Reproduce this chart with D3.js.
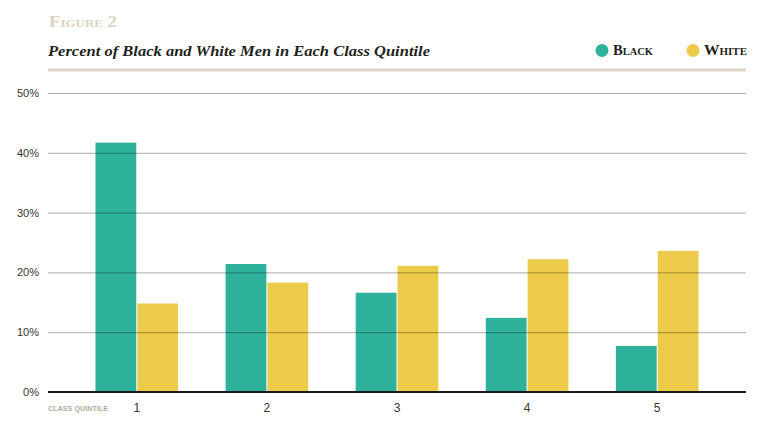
<!DOCTYPE html>
<html>
<head>
<meta charset="utf-8">
<script src="https://cdn.jsdelivr.net/npm/d3@7"></script>
<style>
  body { margin: 0; background: #fff; }
</style>
</head>
<body>
<script>
// chart data
const quintiles = ["1", "2", "3", "4", "5"];
const series = ["Black", "White"];
const blackValues = [41.7, 21.4, 16.6, 12.4, 7.7];
const whiteValues = [14.8, 18.3, 21.1, 22.2, 23.6];
const yTicks = [0, 10, 20, 30, 40, 50];

const colors = { Black: "#2fb29c", White: "#ecca4a" };

const width = 768, height = 431;
const margin = { top: 93, right: 22, bottom: 39, left: 48 };

const svg = d3.select("body").append("svg")
  .attr("width", width)
  .attr("height", height);

// header
svg.append("text")
  .attr("x", 49).attr("y", 26.7)
  .attr("font-family", "Liberation Serif, serif")
  .attr("font-weight", "bold")
  .attr("font-size", 16)
  .attr("font-variant", "small-caps")
  .attr("fill", "#ddd3c3")
  .attr("textLength", 68)
  .attr("lengthAdjust", "spacingAndGlyphs")
  .text("Figure 2");

svg.append("text")
  .attr("x", 48).attr("y", 56)
  .attr("font-family", "Liberation Serif, serif")
  .attr("font-weight", "bold")
  .attr("font-style", "italic")
  .attr("font-size", 15.5)
  .attr("fill", "#231f20")
  .attr("textLength", 382)
  .attr("lengthAdjust", "spacingAndGlyphs")
  .text("Percent of Black and White Men in Each Class Quintile");

svg.append("rect")
  .attr("x", 48).attr("y", 68.5)
  .attr("width", width - margin.right - 48)
  .attr("height", 3)
  .attr("fill", "#ddd4c5");

// legend
const legend = svg.append("g");
const legendX = { Black: 602, White: 693 };
const legendW = { Black: 40, White: 43 };
series.forEach(s => {
  legend.append("circle")
    .attr("cx", legendX[s]).attr("cy", 50.5)
    .attr("r", 6.5)
    .attr("fill", colors[s]);
  legend.append("text")
    .attr("x", legendX[s] + 11).attr("y", 55)
    .attr("font-family", "Liberation Serif, serif")
    .attr("font-weight", "bold")
    .attr("font-size", 14)
    .attr("font-variant", "small-caps")
    .attr("fill", "#231f20")
    .attr("textLength", legendW[s])
    .attr("lengthAdjust", "spacingAndGlyphs")
    .text(s);
});

// scales
const x0 = d3.scaleBand()
  .domain(quintiles)
  .range([margin.left, width - margin.right])
  .padding(0.365);

const x1 = d3.scaleBand()
  .domain(series)
  .range([0, x0.bandwidth()])
  .paddingInner(0.025);

const y = d3.scaleLinear()
  .domain([0, 50])
  .range([height - margin.bottom, margin.top]);

const rows = quintiles.map((q, i) => ({
  q, values: [
    { key: "Black", value: blackValues[i] },
    { key: "White", value: whiteValues[i] }
  ]
}));

// bars
svg.append("g")
  .selectAll("g")
  .data(rows)
  .join("g")
  .attr("transform", d => `translate(${x0(d.q)},0)`)
  .selectAll("rect")
  .data(d => d.values)
  .join("rect")
  .attr("x", d => x1(d.key))
  .attr("y", d => y(d.value))
  .attr("width", x1.bandwidth())
  .attr("height", d => y(0) - y(d.value))
  .attr("fill", d => colors[d.key]);

// gridlines over bars
const yAxis = svg.append("g")
  .attr("transform", `translate(${margin.left},0)`)
  .call(d3.axisLeft(y)
    .tickValues(yTicks.filter(t => t > 0))
    .tickSize(-(width - margin.right - margin.left))
    .tickFormat(d => d + "%"));
yAxis.select(".domain").remove();
yAxis.selectAll(".tick line")
  .attr("stroke", "#000")
  .attr("stroke-opacity", 0.33);
yAxis.selectAll(".tick text")
  .attr("x", -9)
  .attr("font-family", "Liberation Sans, Arial, sans-serif")
  .attr("font-size", 11)
  .attr("fill", "#333");

// zero label and baseline
svg.append("text")
  .attr("x", margin.left - 9).attr("y", y(0))
  .attr("dy", "0.32em")
  .attr("text-anchor", "end")
  .attr("font-family", "Liberation Sans, Arial, sans-serif")
  .attr("font-size", 11)
  .attr("fill", "#333")
  .text("0%");

svg.append("line")
  .attr("x1", margin.left).attr("x2", width - margin.right)
  .attr("y1", y(0)).attr("y2", y(0))
  .attr("stroke", "#1a1a1a")
  .attr("stroke-width", 2);

// x axis labels
const xAxis = svg.append("g")
  .attr("transform", `translate(0,${y(0)})`)
  .call(d3.axisBottom(x0).tickSize(0).tickPadding(11));
xAxis.select(".domain").remove();
xAxis.selectAll(".tick text")
  .attr("font-family", "Liberation Sans, Arial, sans-serif")
  .attr("font-size", 12)
  .attr("fill", "#333");

svg.append("text")
  .attr("x", margin.left).attr("y", 411)
  .attr("font-family", "Liberation Sans, Arial, sans-serif")
  .attr("font-weight", "bold")
  .attr("font-size", 7.5)
  .attr("fill", "#b3ab9e")
  .attr("textLength", 60)
  .attr("lengthAdjust", "spacingAndGlyphs")
  .text("CLASS QUINTILE");
</script>
</body>
</html>
